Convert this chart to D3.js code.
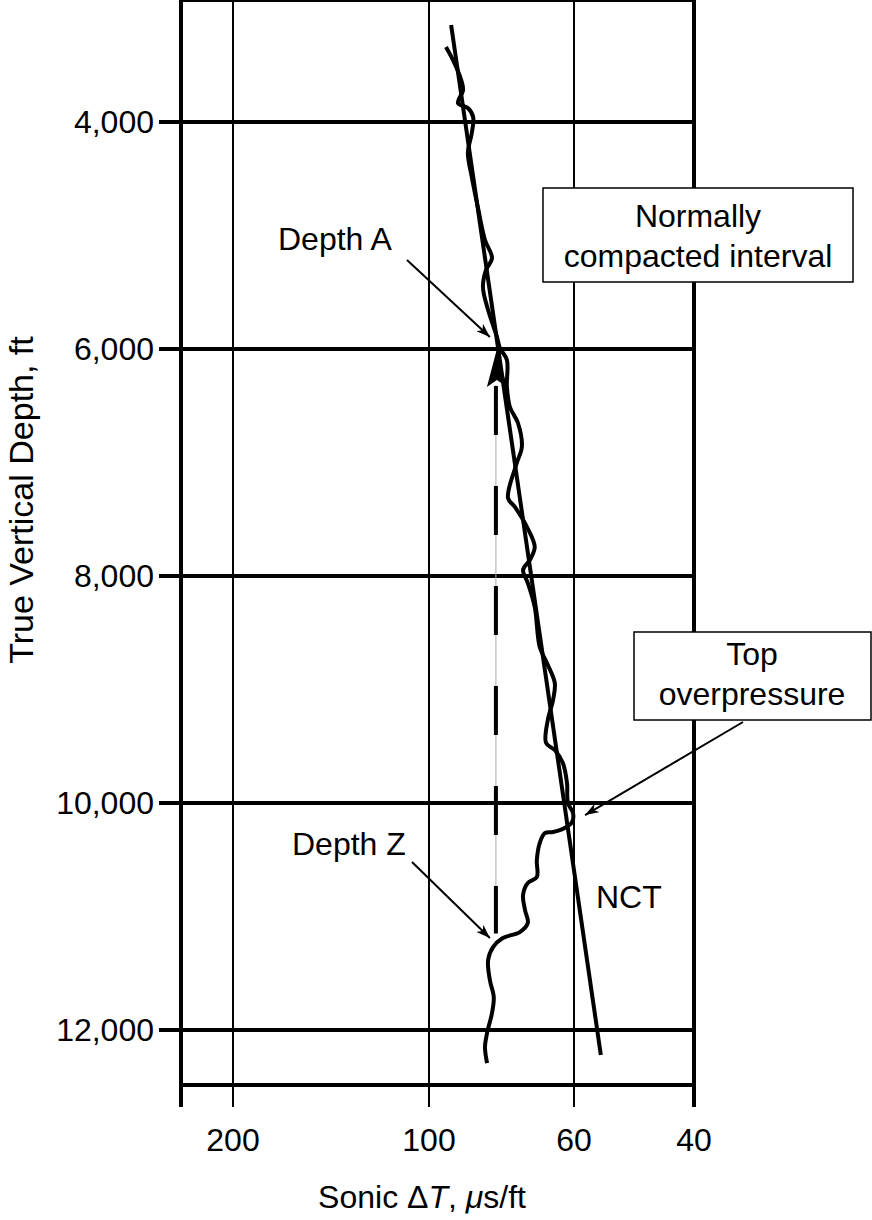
<!DOCTYPE html>
<head>
<meta charset="UTF-8">
<script src="https://d3js.org/d3.v7.min.js"></script>
<style>
  body { margin: 0; background: #fff; }
  svg text { font-family: "Liberation Sans", Arial, Helvetica, sans-serif; fill: #000; }
</style>
</head>
<body>
<svg></svg>
<script>

var width = 872, height = 1220;

// ---- datos
var depthTicks = [4000, 6000, 8000, 10000, 12000];
var dtTicks = [200, 100, 60, 40];

// registro sonico (profundidad ft, DT us/ft)
var logDepth = [3339, 3454, 3603, 3718, 3833, 3877, 3956, 4097, 4273, 4485, 4749, 5040, 5198, 5304, 5454, 5657,
  5894, 5991, 6097, 6335, 6511, 6652, 6864, 7005, 7313, 7392, 7569, 7745, 7859, 7947, 8062, 8273, 8626, 8767,
  8943, 9093, 9269, 9472, 9533, 9648, 9824, 10000, 10089, 10168, 10221, 10256, 10265, 10353, 10503, 10653,
  10705, 10811, 10943, 11058, 11137, 11190, 11269, 11384, 11560, 11710, 11851, 12027, 12151, 12292];
var logDT = [94.2, 91.9, 89.6, 88.7, 90.3, 87.2, 85.6, 86.0, 87.2, 86.0, 84.2, 82.1, 80.1, 81.8, 82.7, 81.2,
  78.7, 77.9, 76.0, 76.0, 75.2, 73.1, 72.1, 73.4, 75.7, 73.9, 70.8, 68.9, 70.1, 71.8, 70.6, 68.9, 67.7, 66.0,
  64.2, 64.6, 65.8, 66.2, 64.2, 62.4, 61.5, 61.3, 60.2, 60.4, 62.0, 64.6, 66.5, 67.7, 68.4, 68.4,
  70.6, 71.8, 71.3, 70.6, 72.6, 77.1, 79.8, 81.2, 80.7, 79.6, 80.1, 81.5, 82.1, 81.5];

// tendencia de compactacion normal
var nctDepth = [3145, 12220];
var nctDT = [92.5, 54.8];

// linea punteada (Depth Z -> Depth A)
var shiftDT = 79;
var shiftDepth = [11150, 6000];

var annotations = [
  { label: ["Depth A"], tip: [80.7, 5894], tail: [407, 260], tx: 278, ty: 250, anchor: "start" },
  { label: ["Depth Z"], tip: [80.7, 11190], tail: [412, 862], tx: 292, ty: 855, anchor: "start" },
  { label: ["Top", "overpressure"], tip: [57.8, 10106], tail: [743, 722], box: [634, 632, 237, 88], tx: 752, ty: 665, anchor: "middle" },
  { label: ["Normally", "compacted interval"], box: [543, 188, 310, 94], tx: 698, ty: 227, anchor: "middle" }
];

// ---- escalas
var x = d3.scaleLog().domain([200, 100, 60, 40]).range([233, 429, 574, 694]);
var y = d3.scaleLinear().domain([4000, 12000]).range([122, 1030]);

var left = 181, right = x(40), top = 2, bottom = 1085, tickLen = 22;

var svg = d3.select("svg").attr("width", width).attr("height", height);

// grilla vertical
svg.append("g").selectAll("line")
  .data(dtTicks.filter(d => d !== 40))
  .enter().append("line")
  .attr("x1", d => x(d)).attr("x2", d => x(d))
  .attr("y1", top).attr("y2", bottom + tickLen)
  .attr("stroke", "#000").attr("stroke-width", 2);

// grilla horizontal
svg.append("g").selectAll("line")
  .data(depthTicks)
  .enter().append("line")
  .attr("x1", left - tickLen).attr("x2", right)
  .attr("y1", d => y(d)).attr("y2", d => y(d))
  .attr("stroke", "#000").attr("stroke-width", 4);

// marco
var frame = svg.append("g").attr("stroke", "#000").attr("stroke-width", 4);
frame.append("line").attr("x1", left).attr("x2", left).attr("y1", 0).attr("y2", bottom + tickLen);
frame.append("line").attr("x1", right).attr("x2", right).attr("y1", 0).attr("y2", bottom + tickLen);
frame.append("line").attr("x1", left - 2).attr("x2", right + 2).attr("y1", top).attr("y2", top);
frame.append("line").attr("x1", left).attr("x2", right).attr("y1", bottom).attr("y2", bottom);

// etiquetas de ejes
svg.append("g").selectAll("text")
  .data(depthTicks)
  .enter().append("text")
  .attr("x", left - tickLen - 5).attr("y", d => y(d)).attr("dy", "0.35em")
  .attr("text-anchor", "end").style("font-size", "32px")
  .text(d3.format(","));

svg.append("g").selectAll("text")
  .data(dtTicks)
  .enter().append("text")
  .attr("x", d => x(d)).attr("y", 1151)
  .attr("text-anchor", "middle").style("font-size", "32px")
  .text(d => d);

var xt = svg.append("text").attr("x", 422).attr("y", 1208)
  .attr("text-anchor", "middle").style("font-size", "32px");
xt.append("tspan").text("Sonic \u0394");
xt.append("tspan").style("font-style", "italic").text("T");
xt.append("tspan").text(", ");
xt.append("tspan").style("font-style", "italic").text("\u03bc");
xt.append("tspan").text("s/ft");

svg.append("text")
  .attr("transform", "translate(33," + 500 + ") rotate(-90)")
  .attr("text-anchor", "middle").style("font-size", "34px")
  .text("True Vertical Depth, ft");

// linea punteada con flecha
svg.append("line")
  .attr("x1", x(shiftDT)).attr("x2", x(shiftDT))
  .attr("y1", y(shiftDepth[0])).attr("y2", y(shiftDepth[1]) + 36)
  .attr("stroke", "#aaa").attr("stroke-width", 1);
svg.append("line")
  .attr("x1", x(shiftDT)).attr("x2", x(shiftDT))
  .attr("y1", y(shiftDepth[1]) + 37).attr("y2", y(shiftDepth[0]))
  .attr("stroke", "#000").attr("stroke-width", 4)
  .attr("stroke-dasharray", "49,51");
var ax = x(shiftDT) + 1, ay = y(shiftDepth[1]);
svg.append("path")
  .attr("d", "M" + ax + "," + ay + "L" + (ax + 10) + "," + (ay + 38) + "L" + ax + "," + (ay + 31) +
    "L" + (ax - 10) + "," + (ay + 38) + "Z")
  .attr("fill", "#000");

// NCT
var line = d3.line().x(d => x(d[1])).y(d => y(d[0]));
svg.append("path")
  .datum(nctDepth.map((d, i) => [d, nctDT[i]]))
  .attr("d", line)
  .attr("fill", "none").attr("stroke", "#000").attr("stroke-width", 4);

// registro
svg.append("path")
  .datum(logDepth.map((d, i) => [d, logDT[i]]))
  .attr("d", line.curve(d3.curveCatmullRom.alpha(0.5)))
  .attr("fill", "none").attr("stroke", "#000").attr("stroke-width", 4)
  .attr("stroke-linejoin", "round");

svg.append("text").attr("x", 596).attr("y", 908).style("font-size", "32px").text("NCT");

// anotaciones
svg.append("defs").append("marker")
  .attr("id", "head").attr("viewBox", "0 0 14 10")
  .attr("refX", 14).attr("refY", 5)
  .attr("markerWidth", 14).attr("markerHeight", 10)
  .attr("markerUnits", "userSpaceOnUse").attr("orient", "auto")
  .append("path").attr("d", "M0,0L14,5L0,10L4,5Z").attr("fill", "#000");

annotations.forEach(function (a) {
  if (a.tip) {
    svg.append("line")
      .attr("x1", a.tail[0]).attr("y1", a.tail[1])
      .attr("x2", x(a.tip[0])).attr("y2", y(a.tip[1]))
      .attr("stroke", "#000").attr("stroke-width", 2)
      .attr("marker-end", "url(#head)");
  }
  if (a.box) {
    svg.append("rect")
      .attr("x", a.box[0]).attr("y", a.box[1]).attr("width", a.box[2]).attr("height", a.box[3])
      .attr("fill", "#fff").attr("stroke", "#000").attr("stroke-width", 1.5);
  }
  var t = svg.append("text").attr("x", a.tx).attr("y", a.ty)
    .attr("text-anchor", a.anchor).style("font-size", "32px");
  a.label.forEach(function (s, i) {
    t.append("tspan").attr("x", a.tx).attr("dy", i ? 40 : 0).text(s);
  });
});

</script>
</body>
